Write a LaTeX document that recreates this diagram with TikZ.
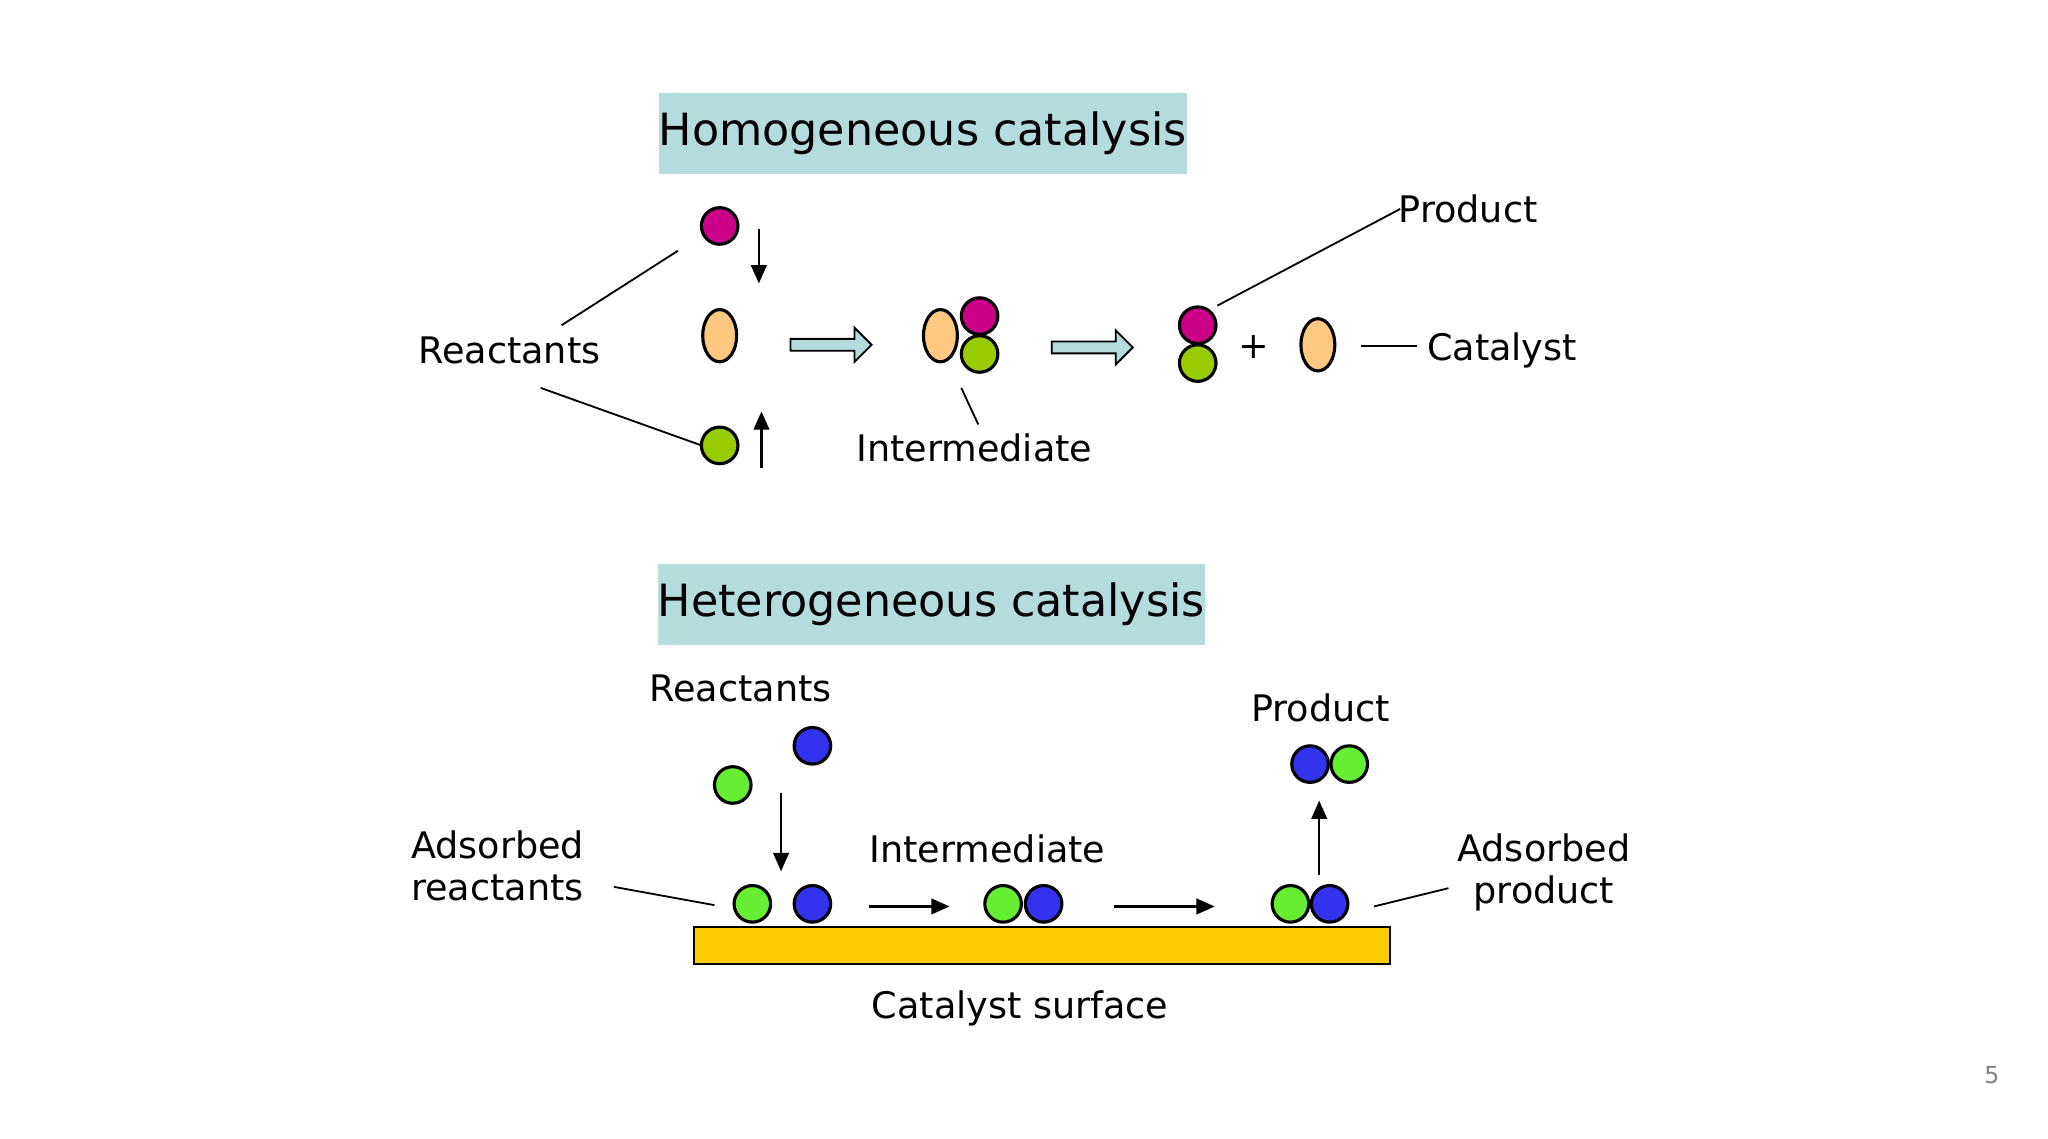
\documentclass[tikz,border=0pt]{standalone}
\usepackage{fontspec}
\setmainfont{DejaVu Sans}
\usetikzlibrary{arrows.meta,shapes.arrows}
\definecolor{teal}{HTML}{B4DCDC}
\definecolor{mag}{HTML}{CC0088}
\definecolor{org}{HTML}{FFC880}
\definecolor{olive}{HTML}{99CC00}
\definecolor{lg}{HTML}{66EE33}
\definecolor{bl}{HTML}{3333EE}
\definecolor{surf}{HTML}{FFCC00}
\tikzset{
 lbl/.style={font=\fontsize{14}{16}\selectfont},
 ttl/.style={fill=teal,minimum height=31pt,inner sep=0pt,font=\fontsize{17}{20}\selectfont},
 ball/.style={circle,draw=black,line width=1.2pt,minimum size=14pt,inner sep=0pt},
 egg/.style={ellipse,draw=black,line width=1.2pt,fill=org,minimum width=13pt,minimum height=20pt,inner sep=0pt},
 ln/.style={line width=0.7pt},
 arr/.style={line width=0.8pt,-{Triangle[length=7pt,width=6pt]}},
 blk/.style={single arrow,draw=black,line width=0.7pt,fill=teal,minimum height=31pt,minimum width=13pt,single arrow head extend=2.5pt,inner sep=1pt}
}
\usetikzlibrary{shapes.geometric}
\begin{document}
\begin{tikzpicture}[x=0.5pt,y=-0.5pt]
\useasboundingbox[fill=white] (0,0) rectangle (1568,872);
% homogeneous
\node[ttl,minimum width=201.5pt] (t1) at (706.5,102) {Homogeneous catalysis};
\node[ball,fill=mag] (m1) at (551,173) {};
\node[egg] (o1) at (551,257) {};
\node[ball,fill=olive] (g1) at (551,341) {};
\coordinate (a1s) at (581,175); \coordinate (a1e) at (581,217);
\draw[arr] (a1s) -- (a1e);
\coordinate (a2s) at (583,358); \coordinate (a2e) at (583,315);
\draw[arr] (a2s) -- (a2e);
\node[lbl] (rea) at (390,268) {Reactants};
\coordinate (r1) at (430,249); \coordinate (r1e) at (519,192);
\coordinate (r2) at (414,297); \coordinate (r2e) at (537,341);
\draw[ln] (r1) -- (r1e); \draw[ln] (r2) -- (r2e);
\node[blk] (b1) at (634,264) {};
\node[egg] (o2) at (720,257) {};
\node[ball,fill=mag] (m2) at (750,242) {};
\node[ball,fill=olive] (g2) at (750,271) {};
\node[lbl] (int1) at (746,343) {Intermediate};
\coordinate (i1) at (736,297); \coordinate (i1e) at (749,325);
\draw[ln] (i1) -- (i1e);
\node[blk] (b2) at (834,266) {};
\node[ball,fill=mag] (m3) at (917,249) {};
\node[ball,fill=olive] (g3) at (917,278) {};
\node[lbl] (plus) at (960,266) {+};
\node[egg] (o3) at (1009,264) {};
\coordinate (c1) at (1042,265); \coordinate (c1e) at (1085,265);
\draw[ln] (c1) -- (c1e);
\node[lbl] (cat) at (1150,268) {Catalyst};
\coordinate (p1) at (932,234); \coordinate (p1e) at (1072,160);
\draw[ln] (p1) -- (p1e);
\node[lbl] (prod) at (1124,160) {Product};
% heterogeneous
\node[ttl,minimum width=208pt] (t2) at (713,463) {Heterogeneous catalysis};
\node[lbl] (rea2) at (567,527) {Reactants};
\node[ball,fill=lg] (hg1) at (561,601) {};
\node[ball,fill=bl] (hb1) at (622,571) {};
\coordinate (d1) at (598,607); \coordinate (d1e) at (598,667);
\draw[arr] (d1) -- (d1e);
\node[lbl,align=left] (adr) at (381,663) {Adsorbed\\reactants};
\coordinate (l1) at (470,679); \coordinate (l1e) at (547,693);
\draw[ln] (l1) -- (l1e);
\node[draw=black,line width=0.8pt,fill=surf,minimum width=266.5pt,minimum height=14pt,inner sep=0pt] (s) at (797.5,724) {};
\node[ball,fill=lg] (hg2) at (576,692) {};
\node[ball,fill=bl] (hb2) at (622,692) {};
\coordinate (e1) at (665,694); \coordinate (e1e) at (727,694);
\draw[arr] (e1) -- (e1e);
\node[ball,fill=lg] (hg3) at (768,692) {};
\node[ball,fill=bl] (hb3) at (799,692) {};
\node[lbl] (int2) at (756,650) {Intermediate};
\coordinate (e2) at (853,694); \coordinate (e2e) at (930,694);
\draw[arr] (e2) -- (e2e);
\node[ball,fill=lg] (hg4) at (988,692) {};
\node[ball,fill=bl] (hb4) at (1018,692) {};
\coordinate (u1) at (1010,670); \coordinate (u1e) at (1010,613);
\draw[arr] (u1) -- (u1e);
\node[ball,fill=lg] (hg5) at (1033,585) {};
\node[ball,fill=bl] (hb5) at (1003,585) {};
\node[lbl] (prod2) at (1011,542) {Product};
\node[lbl,align=center] (adp) at (1182,668) {Adsorbed\\product};
\coordinate (l2) at (1052,694); \coordinate (l2e) at (1109,680);
\draw[ln] (l2) -- (l2e);
\node[lbl] (cs) at (781,772) {Catalyst surface};
\node[font=\fontsize{9}{10}\selectfont,text=gray] (pg) at (1525,823) {5};
\end{tikzpicture}
\end{document}
